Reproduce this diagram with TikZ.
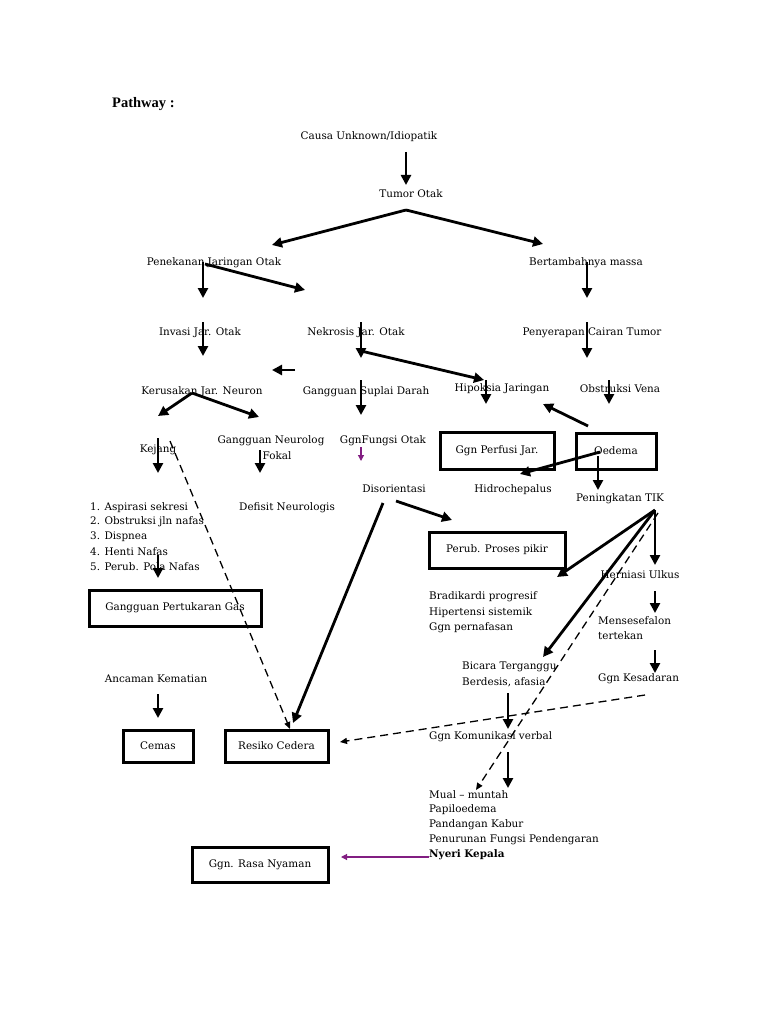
\documentclass[tikz,border=0pt]{standalone}
\usepackage{fontspec}
\setmainfont{DejaVu Serif}
\newfontfamily\pwfont{Liberation Serif}
\usetikzlibrary{arrows.meta,calc}
\definecolor{pur}{RGB}{130,30,130}
\begin{document}
\begin{tikzpicture}[x=1pt,y=-1pt,
  every node/.style={inner sep=0pt, font=\fontsize{10.4pt}{15pt}\selectfont},
  lw/.style={anchor=west},
  bx/.style={draw, line width=3pt},
  arr/.style={line width=2.8pt, -{Triangle[length=10pt,width=10pt]}},
  dsh/.style={line width=1.3pt, dash pattern=on 8pt off 5pt, -{Triangle[length=7pt,width=6pt]}},
  parr/.style={draw=pur, line width=1.2pt, -{Triangle[length=6pt,width=6pt]}}]
\useasboundingbox[fill=white] (0,0) rectangle (768,1024);

% nodes
\node[lw,font=\pwfont\bfseries\fontsize{14.5pt}{16pt}\selectfont] (path) at (112,104) {Pathway :};
\node (causa) at (369,137) {Causa Unknown/Idiopatik};
\node (tumor) at (411,194) {Tumor Otak};
\node (pene) at (214,263) {Penekanan Jaringan Otak};
\node (bert) at (586,263) {Bertambahnya massa};
\node (inv) at (200,333) {Invasi Jar. Otak};
\node (nek) at (356,333) {Nekrosis Jar. Otak};
\node (peny) at (592,333) {Penyerapan Cairan Tumor};
\node (ker) at (202,392) {Kerusakan Jar. Neuron};
\node (sup) at (366,392) {Gangguan Suplai Darah};
\node (hip) at (502,389) {Hipoksia Jaringan};
\node (obs) at (620,389) {Obstruksi Vena};
\node (kej) at (158,450) {Kejang};
\node (gn1) at (271,441) {Gangguan Neurolog};
\node (gn2) at (277,456) {Fokal};
\node (fung) at (383,441) {GgnFungsi Otak};
\node[bx, minimum width=114pt, minimum height=37pt] (perf) at (497,450.5) {Ggn Perfusi Jar.};
\node[bx, minimum width=80pt, minimum height=36pt] (oed) at (616,451) {Oedema};
\node (dis) at (394,489) {Disorientasi};
\node (hid) at (513,490) {Hidrochepalus};
\node (tik) at (620,499) {Peningkatan TIK};
\node (def) at (287,508) {Defisit Neurologis};
\node[lw] (l1) at (90,508) {1. Aspirasi sekresi};
\node[lw] (l2) at (90,522) {2. Obstruksi jln nafas};
\node[lw] (l3) at (90,537) {3. Dispnea};
\node[lw] (l4) at (90,552) {4. Henti Nafas};
\node[lw] (l5) at (90,567) {5. Perub. Pola Nafas};
\node[bx, minimum width=136pt, minimum height=36pt] (perub) at (497,550) {Perub. Proses pikir};
\node (hern) at (640,575) {Herniasi Ulkus};
\node[lw] (brad1) at (429,597) {Bradikardi progresif};
\node[lw] (brad2) at (429,613) {Hipertensi sistemik};
\node[lw] (brad3) at (429,628) {Ggn pernafasan};
\node[lw] (mens1) at (598,621) {Mensesefalon};
\node[lw] (mens2) at (598,636) {tertekan};
\node[lw] (kes) at (598,679) {Ggn Kesadaran};
\node[lw] (bic1) at (462,667) {Bicara Terganggu};
\node[lw] (bic2) at (462,682) {Berdesis, afasia};
\node[lw] (kom) at (429,737) {Ggn Komunikasi verbal};
\node[lw] (m1) at (429,795) {Mual -- muntah};
\node[lw] (m2) at (429,810) {Papiloedema};
\node[lw] (m3) at (429,825) {Pandangan Kabur};
\node[lw] (m4) at (429,840) {Penurunan Fungsi Pendengaran};
\node[lw,font=\bfseries\fontsize{10.4pt}{15pt}\selectfont] (m5) at (429,855) {Nyeri Kepala};
\node[bx, minimum width=172pt, minimum height=36pt] (gas) at (175,608) {Gangguan Pertukaran Gas};
\node (anc) at (156,679) {Ancaman Kematian};
\node[bx, minimum width=70pt, minimum height=32pt] (cemas) at (158,746) {Cemas};
\node[bx, minimum width=103pt, minimum height=32pt] (res) at (276.5,746) {Resiko Cedera};
\node[bx, minimum width=136pt, minimum height=35pt] (nyaman) at (260,864.5) {Ggn. Rasa Nyaman};

% connectors
\draw[arr] ($(causa)+(37,15)$) -- ($(tumor)+(-5,-9)$);
\draw[arr] ($(tumor)+(-5,16)$) -- ($(pene)+(58,-18)$);
\draw[arr] ($(tumor)+(-5,16)$) -- ($(bert)+(-43,-19)$);
\draw[arr] ($(pene)+(-11,-1)$) -- ($(inv)+(3,-35)$);
\draw[arr] ($(pene)+(-9,1)$) -- ($(nek)+(-51,-43)$);
\draw[arr] ($(bert)+(1,-1)$) -- ($(peny)+(-5,-35)$);
\draw[arr] ($(inv)+(3,-11)$) -- ($(ker)+(1,-36)$);
\draw[arr] ($(nek)+(5,-11)$) -- ($(sup)+(-5,-34)$);
\draw[arr] ($(nek)+(5,18)$) -- ($(hip)+(-18,-9)$);
\draw[arr] ($(ker)+(93,-22)$) -- ($(ker)+(70,-22)$);
\draw[arr] ($(peny)+(-5,-11)$) -- ($(obs)+(-33,-31)$);
\draw[arr] ($(hip)+(-16,-9)$) -- ($(hip)+(-16,15)$);
\draw[arr] ($(obs)+(-11,-9)$) -- ($(obs)+(-11,15)$);
\draw[arr] ($(oed)+(-28,-25)$) -- ($(hip)+(41,15)$);
\draw[arr] ($(ker)+(-10,1)$) -- ($(kej)+(0,-34)$);
\draw[arr] ($(ker)+(-10,1)$) -- ($(gn1)+(-12,-24)$);
\draw[arr] ($(sup)+(-5,-12)$) -- ($(fung)+(-22,-26)$);
\draw[arr] ($(kej)+(0,-12)$) -- ($(kej)+(0,23)$);
\draw[arr] ($(gn2)+(-17,-6)$) -- ($(gn2)+(-17,17)$);
\draw[parr] ($(fung)+(-22,6)$) -- ($(fung)+(-22,20)$);
\draw[arr] ($(oed)+(-16,1)$) -- ($(hid)+(7,-16)$);
\draw[arr] ($(oed)+(-18,5)$) -- ($(tik)+(-22,-9)$);
\draw[arr] ($(dis)+(2,12)$) -- ($(perub)+(-45,-30)$);
\draw[arr] ($(dis)+(-11,14)$) -- ($(res)+(16.5,-23)$);
\draw[dsh] ($(kej)+(12,-9)$) -- ($(res)+(13.5,-17)$);
\draw[arr] ($(l4.west)+(68,3)$) -- ($(gas)+(-17,-30)$);
\draw[arr] ($(anc)+(2,15)$) -- ($(cemas)+(0,-28)$);
\draw[arr] ($(tik)+(35,11)$) -- ($(brad1.west)+(128,-20)$);
\draw[arr] ($(tik)+(35,11)$) -- ($(bic1.west)+(81,-10)$);
\draw[dsh] ($(tik)+(38,14)$) -- ($(m1.west)+(47,-5)$);
\draw[arr] ($(tik)+(35,11)$) -- ($(hern)+(15,-10)$);
\draw[arr] ($(hern)+(15,16)$) -- ($(mens1.west)+(57,-8)$);
\draw[arr] ($(mens2.west)+(57,14)$) -- ($(kes.west)+(57,-6)$);
\draw[dsh] ($(kes.west)+(47,16)$) -- ($(res)+(63.5,-4)$);
\draw[arr] ($(bic2.west)+(46,11)$) -- ($(kom.west)+(79,-8)$);
\draw[arr] ($(kom.west)+(79,15)$) -- ($(m1.west)+(79,-7)$);
\draw[parr] ($(m5.west)+(0,2)$) -- ($(nyaman)+(81,-7.5)$);
\end{tikzpicture}
\end{document}
